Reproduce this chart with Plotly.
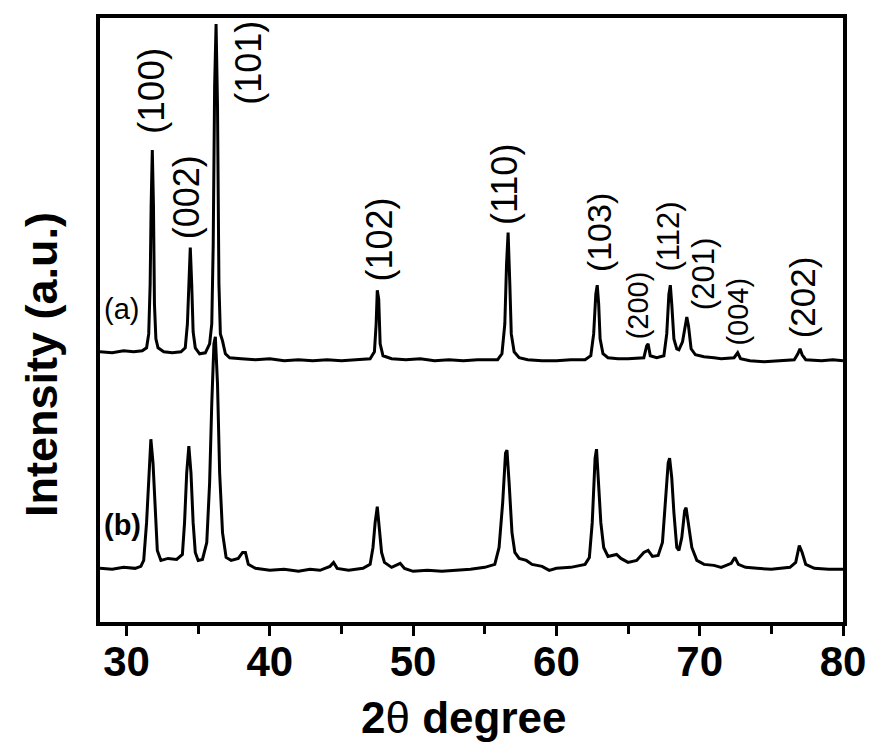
import plotly.graph_objects as go

# ---- data (intensity in arbitrary units) ----
two_theta_a = [28.15, 29.0, 29.8, 30.5, 31.1, 31.4, 31.55, 31.65, 31.72, 31.8, 31.88, 31.95, 32.05, 32.2,
               32.6, 33.2, 33.8, 34.1, 34.25, 34.35, 34.45, 34.55, 34.65, 34.8, 35.1, 35.5, 35.8, 35.95,
               36.05, 36.15, 36.25, 36.35, 36.45, 36.55, 36.7, 36.9, 37.2, 38.0, 39.0, 40.0, 41.0, 42.0,
               43.0, 44.0, 45.0, 46.0, 47.0, 47.3, 47.42, 47.5, 47.6, 47.7, 47.9, 48.5, 49.5, 50.5, 51.5,
               52.5, 53.5, 54.5, 55.9, 56.2, 56.4, 56.52, 56.63, 56.75, 56.85, 57.05, 57.4, 58.0, 59.0,
               60.0, 61.0, 62.0, 62.4, 62.6, 62.75, 62.85, 62.95, 63.05, 63.25, 63.6, 64.3, 65.0, 66.1,
               66.3, 66.4, 66.55, 67.0, 67.5, 67.7, 67.85, 67.95, 68.05, 68.2, 68.4, 68.55, 68.8, 68.98,
               69.1, 69.22, 69.4, 69.7, 70.3, 71.0, 71.5, 72.4, 72.65, 72.85, 73.5, 74.5, 75.5, 76.6,
               76.85, 77.0, 77.15, 77.4, 78.5, 79.3, 80.0]
intensity_a = [272, 271, 273, 272, 273, 276, 290, 340, 420, 475, 420, 320, 285, 276,
               272, 271, 272, 276, 300, 350, 377, 340, 292, 276, 270, 271, 280, 300,
               380, 540, 602, 520, 340, 290, 283, 270, 266, 265, 264, 265, 263, 264,
               263, 264, 263, 264, 265, 272, 300, 334, 325, 280, 268, 265, 264, 265, 263,
               264, 263, 264, 264, 270, 300, 360, 392, 340, 290, 272, 266, 264, 263,
               263, 264, 264, 268, 290, 330, 339, 320, 285, 270, 266, 265, 265, 266,
               278, 280, 268, 266, 268, 290, 330, 339, 320, 285, 275, 274, 282, 300,
               307, 298, 275, 269, 267, 266, 265, 266, 271, 265, 263, 262, 263, 264,
               270, 275, 269, 264, 263, 264, 263]

two_theta_b = [28.15, 29.0, 29.8, 30.6, 31.0, 31.2, 31.4, 31.55, 31.7, 31.85, 32.0, 32.15, 32.4, 32.9,
               33.5, 33.9, 34.05, 34.2, 34.35, 34.5, 34.65, 34.8, 35.0, 35.3, 35.6, 35.8, 35.95, 36.1,
               36.2, 36.35, 36.5, 36.7, 36.95, 37.3, 37.8, 38.1, 38.3, 38.5, 39.0, 40.0, 41.0, 42.0,
               42.8, 43.5, 44.2, 44.45, 44.7, 45.5, 46.5, 47.0, 47.2, 47.35, 47.5, 47.65, 47.8, 48.0,
               48.5, 49.1, 49.4, 50.0, 51.0, 52.0, 53.0, 54.0, 55.0, 55.7, 56.0, 56.25, 56.45, 56.55,
               56.7, 56.9, 57.1, 57.4, 57.9, 58.3, 59.0, 59.5, 60.0, 61.0, 62.0, 62.3, 62.5, 62.7,
               62.8, 62.95, 63.1, 63.3, 63.6, 64.2, 64.5, 65.0, 65.6, 66.1, 66.4, 66.7, 67.1, 67.4,
               67.6, 67.8, 67.9, 68.05, 68.2, 68.4, 68.55, 68.75, 68.95, 69.05, 69.2, 69.45, 69.8,
               70.3, 71.0, 71.5, 72.2, 72.45, 72.7, 73.2, 74.0, 75.0, 76.3, 76.7, 76.95, 77.15, 77.4,
               78.0, 79.0, 80.0]
intensity_b = [54, 53, 55, 54, 56, 62, 100, 150, 184, 160, 110, 72, 62, 64,
               63, 68, 100, 150, 177, 150, 100, 70, 62, 63, 80, 140, 220, 280,
               287, 240, 150, 90, 65, 62, 64, 70, 70, 58, 54, 52, 53, 51,
               53, 52, 56, 60, 54, 52, 54, 58, 75, 100, 116, 95, 70, 60,
               55, 59, 54, 51, 52, 51, 52, 53, 55, 58, 75, 120, 170, 173,
               140, 90, 70, 64, 62, 58, 56, 52, 54, 55, 58, 65, 100, 165,
               174, 140, 100, 75, 66, 68, 64, 60, 62, 70, 72, 66, 67, 80,
               120, 160, 165, 145, 110, 75, 72, 85, 112, 115, 100, 75, 62,
               58, 57, 55, 59, 65, 58, 55, 54, 53, 55, 60, 77, 70, 58,
               54, 53, 53]

peak_labels = ["(100)", "(002)", "(101)", "(102)", "(110)", "(103)",
               "(200)", "(112)", "(201)", "(004)", "(202)"]
peak_label_x = [31.75, 34.18, 38.55, 47.69, 56.42, 62.94, 65.71, 67.86, 70.22, 72.71, 77.15]
peak_label_y = [534, 428, 563, 385, 440, 392, 319, 388, 350, 312, 327]
peak_label_size = [37, 36, 36, 36, 36, 34, 29, 31, 31, 29, 35]

sample_labels = ["(a)", "<b>(b)</b>"]
sample_label_x = [29.67, 29.74]
sample_label_y = [315, 98]

x_ticks = [30, 40, 50, 60, 70, 80]

FONT = "Liberation Sans, Arial, sans-serif"

fig = go.Figure()
fig.add_trace(go.Scatter(x=two_theta_a, y=intensity_a, mode="lines",
                         line=dict(color="black", width=3), showlegend=False))
fig.add_trace(go.Scatter(x=two_theta_b, y=intensity_b, mode="lines",
                         line=dict(color="black", width=3), showlegend=False))

for t, x, y, s in zip(peak_labels, peak_label_x, peak_label_y, peak_label_size):
    fig.add_annotation(x=x, y=y, text=t, textangle=-90, showarrow=False,
                       font=dict(family=FONT, size=s, color="black"),
                       xanchor="center", yanchor="middle")

for t, x, y in zip(sample_labels, sample_label_x, sample_label_y):
    fig.add_annotation(x=x, y=y, text=t, showarrow=False,
                       font=dict(family=FONT, size=29, color="black"),
                       xanchor="center", yanchor="middle")

# axis titles
fig.add_annotation(xref="paper", yref="paper", x=-0.079, y=0.426,
                   text="<b>Intensity (a.u.)</b>", textangle=-90, showarrow=False,
                   font=dict(family=FONT, size=45, color="black"),
                   xanchor="center", yanchor="middle")
fig.add_annotation(xref="paper", yref="paper", x=0.489, y=-0.158,
                   text="<b>2</b>θ<b> degree</b>", showarrow=False,
                   font=dict(family=FONT, size=44, color="black"),
                   xanchor="center", yanchor="middle")

fig.update_xaxes(range=[28.15, 80], tickvals=x_ticks, ticktext=[str(v) for v in x_ticks],
                 ticks="outside", ticklen=10, tickwidth=2.5, tickcolor="black",
                 ticklabelstandoff=-10,
                 minor=dict(tickvals=[35, 45, 55, 65, 75], ticks="outside", ticklen=8,
                            tickwidth=2.5, tickcolor="black"),
                 tickfont=dict(family=FONT, size=42, color="black", weight="bold"),
                 showline=True, linewidth=3.5, linecolor="black", mirror=True,
                 showgrid=False, zeroline=False)
fig.update_yaxes(range=[0, 608], showticklabels=False, ticks="",
                 showline=True, linewidth=3.5, linecolor="black", mirror=True,
                 showgrid=False, zeroline=False)

# the page adds an 8px body margin; size the figure so the plot lands where it should
fig.update_layout(width=864, height=737, margin=dict(l=92, r=24, t=6, b=123),
                  plot_bgcolor="white", paper_bgcolor="white")

fig.write_html("out.html")
